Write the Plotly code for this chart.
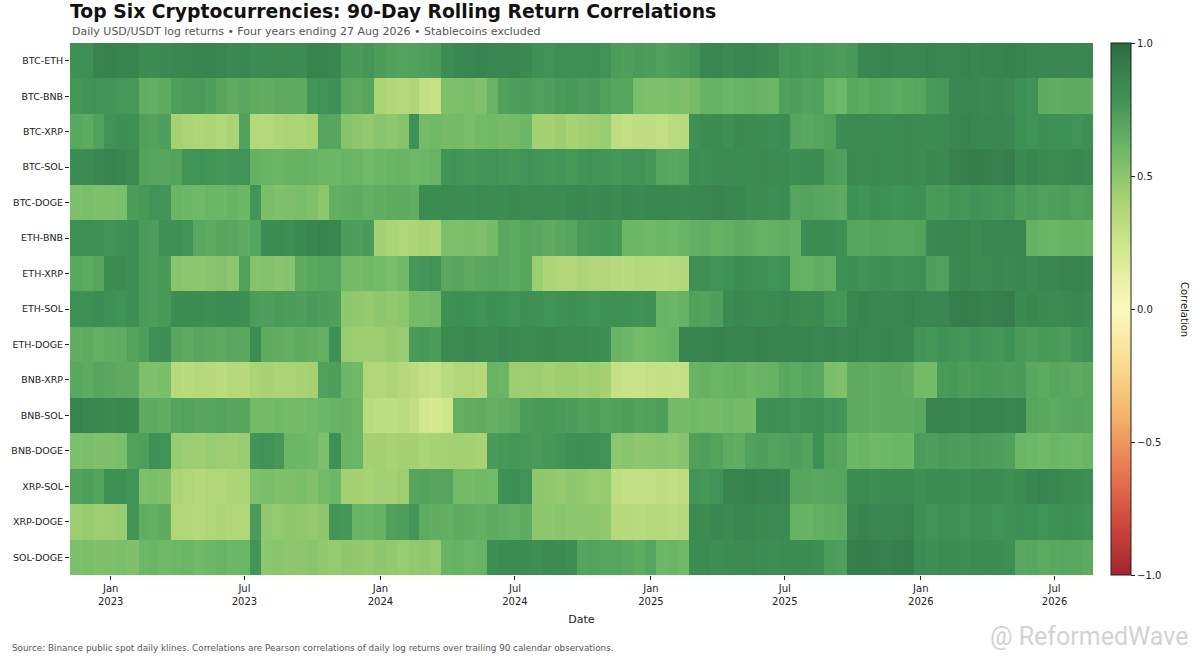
import pandas as pd
import plotly.graph_objects as go

# pair labels, top to bottom
pairs = ['BTC-ETH', 'BTC-BNB', 'BTC-XRP', 'BTC-SOL', 'BTC-DOGE',
         'ETH-BNB', 'ETH-XRP', 'ETH-SOL', 'ETH-DOGE', 'BNB-XRP',
         'BNB-SOL', 'BNB-DOGE', 'XRP-SOL', 'XRP-DOGE', 'SOL-DOGE']

# semi-monthly sample dates (1st / 15th), mid Nov 2022 -> mid Aug 2026
dates = pd.date_range('2022-11-15', '2026-08-15', freq='SMS')

# 90-day rolling correlations, one list per pair
btc_eth = [0.80, 0.81, 0.88, 0.89, 0.88, 0.87, 0.83, 0.82, 0.84, 0.85,
           0.86, 0.87, 0.87, 0.86, 0.84, 0.85, 0.82, 0.83, 0.84, 0.83,
           0.82, 0.87, 0.88, 0.86, 0.76, 0.75, 0.77, 0.74, 0.72, 0.71,
           0.72, 0.73, 0.74, 0.82, 0.85, 0.86, 0.87, 0.86, 0.85, 0.86,
           0.84, 0.80, 0.79, 0.81, 0.80, 0.80, 0.81, 0.79, 0.74, 0.73,
           0.75, 0.74, 0.72, 0.74, 0.75, 0.78, 0.85, 0.86, 0.84, 0.85,
           0.86, 0.84, 0.83, 0.77, 0.78, 0.76, 0.77, 0.75, 0.74, 0.76,
           0.85, 0.86, 0.87, 0.86, 0.85, 0.86, 0.87, 0.86, 0.86, 0.87,
           0.86, 0.87, 0.88, 0.89, 0.88, 0.86, 0.85, 0.86, 0.86, 0.85, 0.86]
btc_bnb = [0.77, 0.78, 0.79, 0.78, 0.77, 0.76, 0.65, 0.64, 0.66, 0.73,
           0.74, 0.75, 0.73, 0.69, 0.67, 0.68, 0.66, 0.65, 0.67, 0.66,
           0.67, 0.78, 0.79, 0.80, 0.68, 0.67, 0.69, 0.40, 0.37, 0.36,
           0.38, 0.30, 0.28, 0.54, 0.55, 0.56, 0.54, 0.62, 0.72, 0.73,
           0.74, 0.72, 0.73, 0.75, 0.76, 0.74, 0.75, 0.72, 0.70, 0.69,
           0.56, 0.55, 0.54, 0.56, 0.55, 0.57, 0.62, 0.63, 0.61, 0.62,
           0.63, 0.62, 0.61, 0.72, 0.73, 0.71, 0.72, 0.62, 0.60, 0.68,
           0.67, 0.69, 0.68, 0.67, 0.68, 0.69, 0.75, 0.76, 0.85, 0.86,
           0.85, 0.84, 0.85, 0.84, 0.80, 0.79, 0.66, 0.65, 0.66, 0.67, 0.66]
btc_xrp = [0.68, 0.67, 0.72, 0.79, 0.81, 0.80, 0.72, 0.71, 0.73, 0.42,
           0.40, 0.38, 0.39, 0.37, 0.40, 0.72, 0.36, 0.35, 0.38, 0.40,
           0.39, 0.41, 0.70, 0.69, 0.52, 0.50, 0.48, 0.51, 0.49, 0.52,
           0.80, 0.58, 0.59, 0.57, 0.58, 0.56, 0.58, 0.59, 0.57, 0.58,
           0.60, 0.43, 0.42, 0.44, 0.41, 0.43, 0.44, 0.46, 0.32, 0.30,
           0.31, 0.32, 0.30, 0.33, 0.34, 0.80, 0.82, 0.83, 0.81, 0.84,
           0.83, 0.82, 0.81, 0.82, 0.70, 0.68, 0.70, 0.72, 0.82, 0.83,
           0.84, 0.83, 0.82, 0.83, 0.84, 0.83, 0.82, 0.84, 0.86, 0.87,
           0.86, 0.85, 0.86, 0.85, 0.80, 0.79, 0.81, 0.80, 0.80, 0.79, 0.81]
btc_sol = [0.82, 0.83, 0.86, 0.87, 0.85, 0.83, 0.71, 0.70, 0.69, 0.71,
           0.78, 0.79, 0.78, 0.77, 0.78, 0.79, 0.63, 0.62, 0.61, 0.62,
           0.63, 0.62, 0.61, 0.60, 0.62, 0.61, 0.59, 0.60, 0.61, 0.62,
           0.60, 0.61, 0.62, 0.78, 0.79, 0.77, 0.78, 0.79, 0.78, 0.77,
           0.79, 0.78, 0.77, 0.78, 0.76, 0.78, 0.79, 0.78, 0.77, 0.78,
           0.79, 0.77, 0.69, 0.68, 0.70, 0.82, 0.81, 0.82, 0.83, 0.82,
           0.83, 0.84, 0.83, 0.82, 0.81, 0.82, 0.83, 0.74, 0.73, 0.84,
           0.83, 0.84, 0.82, 0.83, 0.84, 0.83, 0.85, 0.84, 0.89, 0.90,
           0.91, 0.90, 0.89, 0.90, 0.84, 0.85, 0.84, 0.83, 0.84, 0.85, 0.84]
btc_doge = [0.55, 0.56, 0.54, 0.55, 0.56, 0.74, 0.76, 0.79, 0.78, 0.61,
            0.60, 0.59, 0.61, 0.60, 0.62, 0.60, 0.78, 0.56, 0.54, 0.55,
            0.56, 0.54, 0.50, 0.64, 0.65, 0.66, 0.64, 0.65, 0.66, 0.67,
            0.65, 0.83, 0.82, 0.84, 0.83, 0.82, 0.84, 0.83, 0.82, 0.84,
            0.83, 0.84, 0.83, 0.82, 0.84, 0.85, 0.84, 0.85, 0.84, 0.85,
            0.84, 0.85, 0.86, 0.85, 0.84, 0.85, 0.86, 0.87, 0.86, 0.85,
            0.82, 0.83, 0.81, 0.82, 0.70, 0.71, 0.69, 0.68, 0.67, 0.80,
            0.79, 0.81, 0.80, 0.79, 0.80, 0.81, 0.75, 0.76, 0.78, 0.77,
            0.79, 0.78, 0.77, 0.78, 0.73, 0.74, 0.72, 0.73, 0.74, 0.72, 0.73]
eth_bnb = [0.80, 0.81, 0.80, 0.79, 0.80, 0.81, 0.75, 0.74, 0.80, 0.81,
           0.79, 0.68, 0.67, 0.69, 0.68, 0.67, 0.70, 0.82, 0.83, 0.81,
           0.84, 0.86, 0.87, 0.86, 0.74, 0.73, 0.75, 0.42, 0.40, 0.38,
           0.39, 0.41, 0.40, 0.55, 0.54, 0.56, 0.55, 0.57, 0.68, 0.67,
           0.69, 0.68, 0.66, 0.68, 0.69, 0.75, 0.76, 0.77, 0.76, 0.61,
           0.60, 0.59, 0.61, 0.60, 0.62, 0.64, 0.65, 0.63, 0.64, 0.66,
           0.65, 0.63, 0.64, 0.65, 0.64, 0.82, 0.83, 0.82, 0.81, 0.70,
           0.69, 0.71, 0.70, 0.69, 0.70, 0.71, 0.84, 0.85, 0.86, 0.85,
           0.84, 0.86, 0.85, 0.86, 0.85, 0.63, 0.62, 0.61, 0.62, 0.63, 0.62]
eth_xrp = [0.68, 0.67, 0.69, 0.82, 0.83, 0.81, 0.75, 0.74, 0.76, 0.51,
           0.50, 0.49, 0.51, 0.52, 0.50, 0.72, 0.52, 0.53, 0.51, 0.52,
           0.66, 0.68, 0.69, 0.70, 0.58, 0.57, 0.59, 0.58, 0.56, 0.59,
           0.77, 0.78, 0.79, 0.68, 0.69, 0.67, 0.68, 0.69, 0.68, 0.67,
           0.69, 0.45, 0.39, 0.38, 0.37, 0.39, 0.38, 0.37, 0.35, 0.34,
           0.36, 0.35, 0.34, 0.36, 0.37, 0.80, 0.81, 0.79, 0.80, 0.82,
           0.81, 0.80, 0.79, 0.80, 0.64, 0.63, 0.65, 0.64, 0.80, 0.81,
           0.79, 0.80, 0.81, 0.79, 0.80, 0.81, 0.73, 0.72, 0.84, 0.85,
           0.84, 0.83, 0.85, 0.84, 0.85, 0.84, 0.85, 0.86, 0.88, 0.87, 0.86]
eth_sol = [0.80, 0.81, 0.82, 0.80, 0.79, 0.81, 0.75, 0.74, 0.76, 0.82,
           0.83, 0.82, 0.81, 0.83, 0.82, 0.81, 0.74, 0.73, 0.75, 0.74,
           0.73, 0.75, 0.74, 0.73, 0.49, 0.48, 0.47, 0.49, 0.48, 0.50,
           0.58, 0.57, 0.59, 0.80, 0.81, 0.80, 0.79, 0.81, 0.80, 0.79,
           0.81, 0.80, 0.79, 0.80, 0.81, 0.80, 0.79, 0.80, 0.81, 0.80,
           0.79, 0.80, 0.62, 0.61, 0.63, 0.72, 0.71, 0.73, 0.84, 0.85,
           0.84, 0.83, 0.84, 0.85, 0.84, 0.83, 0.84, 0.78, 0.77, 0.86,
           0.87, 0.86, 0.85, 0.86, 0.87, 0.86, 0.85, 0.86, 0.90, 0.91,
           0.90, 0.89, 0.90, 0.91, 0.84, 0.85, 0.84, 0.83, 0.84, 0.85, 0.84]
eth_doge = [0.65, 0.66, 0.64, 0.65, 0.66, 0.71, 0.73, 0.80, 0.81, 0.68,
            0.67, 0.69, 0.68, 0.67, 0.69, 0.68, 0.82, 0.66, 0.65, 0.64,
            0.66, 0.65, 0.64, 0.80, 0.46, 0.45, 0.44, 0.45, 0.47, 0.46,
            0.75, 0.76, 0.74, 0.84, 0.83, 0.85, 0.84, 0.83, 0.85, 0.84,
            0.83, 0.84, 0.85, 0.84, 0.83, 0.84, 0.82, 0.81, 0.62, 0.60,
            0.58, 0.59, 0.61, 0.63, 0.88, 0.87, 0.88, 0.89, 0.88, 0.87,
            0.88, 0.89, 0.88, 0.87, 0.88, 0.87, 0.86, 0.87, 0.86, 0.87,
            0.85, 0.86, 0.87, 0.86, 0.85, 0.78, 0.77, 0.79, 0.78, 0.77,
            0.79, 0.78, 0.77, 0.79, 0.75, 0.74, 0.76, 0.75, 0.74, 0.78, 0.80]
bnb_xrp = [0.68, 0.67, 0.69, 0.68, 0.67, 0.66, 0.55, 0.54, 0.56, 0.35,
           0.34, 0.36, 0.35, 0.33, 0.36, 0.35, 0.40, 0.41, 0.39, 0.40,
           0.41, 0.42, 0.72, 0.73, 0.60, 0.59, 0.38, 0.37, 0.39, 0.36,
           0.33, 0.30, 0.28, 0.34, 0.37, 0.38, 0.36, 0.62, 0.61, 0.45,
           0.44, 0.45, 0.43, 0.44, 0.45, 0.43, 0.44, 0.42, 0.28, 0.27,
           0.26, 0.28, 0.29, 0.28, 0.30, 0.62, 0.63, 0.61, 0.62, 0.63,
           0.61, 0.62, 0.63, 0.68, 0.67, 0.69, 0.68, 0.56, 0.54, 0.66,
           0.67, 0.65, 0.66, 0.67, 0.65, 0.58, 0.57, 0.75, 0.76, 0.74,
           0.75, 0.76, 0.75, 0.74, 0.75, 0.68, 0.67, 0.69, 0.68, 0.67, 0.68]
bnb_sol = [0.87, 0.86, 0.85, 0.84, 0.85, 0.84, 0.66, 0.67, 0.65, 0.70,
           0.71, 0.69, 0.70, 0.71, 0.69, 0.70, 0.58, 0.57, 0.59, 0.58,
           0.57, 0.59, 0.60, 0.62, 0.63, 0.61, 0.33, 0.32, 0.31, 0.33,
           0.30, 0.22, 0.21, 0.24, 0.64, 0.65, 0.66, 0.64, 0.65, 0.67,
           0.74, 0.75, 0.76, 0.75, 0.74, 0.72, 0.73, 0.71, 0.72, 0.73,
           0.71, 0.72, 0.73, 0.58, 0.57, 0.59, 0.58, 0.57, 0.59, 0.58,
           0.57, 0.80, 0.81, 0.80, 0.79, 0.80, 0.81, 0.79, 0.78, 0.66,
           0.67, 0.65, 0.66, 0.67, 0.66, 0.68, 0.87, 0.88, 0.87, 0.86,
           0.87, 0.88, 0.87, 0.86, 0.87, 0.69, 0.68, 0.67, 0.68, 0.69, 0.68]
bnb_doge = [0.55, 0.56, 0.54, 0.55, 0.56, 0.72, 0.73, 0.80, 0.79, 0.46,
            0.45, 0.44, 0.46, 0.45, 0.44, 0.46, 0.78, 0.79, 0.77, 0.61,
            0.60, 0.59, 0.55, 0.80, 0.62, 0.61, 0.42, 0.43, 0.41, 0.42,
            0.43, 0.40, 0.41, 0.42, 0.43, 0.42, 0.41, 0.75, 0.76, 0.77,
            0.76, 0.75, 0.77, 0.78, 0.80, 0.81, 0.80, 0.79, 0.50, 0.51,
            0.49, 0.50, 0.51, 0.50, 0.52, 0.72, 0.73, 0.71, 0.66, 0.65,
            0.72, 0.73, 0.71, 0.72, 0.73, 0.71, 0.80, 0.71, 0.70, 0.60,
            0.61, 0.59, 0.60, 0.61, 0.60, 0.74, 0.73, 0.75, 0.74, 0.73,
            0.75, 0.74, 0.73, 0.72, 0.61, 0.60, 0.59, 0.61, 0.60, 0.59, 0.61]
xrp_sol = [0.72, 0.73, 0.71, 0.80, 0.81, 0.79, 0.55, 0.56, 0.54, 0.39,
           0.38, 0.36, 0.38, 0.37, 0.39, 0.40, 0.55, 0.56, 0.54, 0.55,
           0.56, 0.54, 0.58, 0.60, 0.43, 0.42, 0.41, 0.43, 0.42, 0.44,
           0.70, 0.71, 0.69, 0.70, 0.58, 0.57, 0.59, 0.58, 0.80, 0.81,
           0.79, 0.49, 0.48, 0.47, 0.49, 0.48, 0.46, 0.47, 0.31, 0.30,
           0.29, 0.30, 0.31, 0.30, 0.32, 0.78, 0.77, 0.79, 0.87, 0.88,
           0.89, 0.88, 0.87, 0.86, 0.70, 0.69, 0.68, 0.69, 0.70, 0.82,
           0.83, 0.81, 0.82, 0.83, 0.82, 0.81, 0.82, 0.83, 0.82, 0.81,
           0.82, 0.83, 0.82, 0.81, 0.83, 0.86, 0.87, 0.86, 0.84, 0.82, 0.81]
xrp_doge = [0.45, 0.46, 0.44, 0.45, 0.46, 0.78, 0.65, 0.64, 0.66, 0.38,
            0.37, 0.36, 0.38, 0.39, 0.37, 0.38, 0.75, 0.48, 0.47, 0.49,
            0.48, 0.47, 0.49, 0.78, 0.77, 0.62, 0.61, 0.63, 0.72, 0.73,
            0.78, 0.66, 0.65, 0.64, 0.66, 0.65, 0.64, 0.66, 0.65, 0.64,
            0.66, 0.50, 0.49, 0.51, 0.50, 0.49, 0.50, 0.48, 0.36, 0.35,
            0.34, 0.36, 0.35, 0.34, 0.36, 0.84, 0.83, 0.85, 0.84, 0.86,
            0.85, 0.84, 0.83, 0.84, 0.63, 0.62, 0.64, 0.65, 0.66, 0.86,
            0.87, 0.86, 0.85, 0.86, 0.87, 0.80, 0.79, 0.81, 0.80, 0.79,
            0.81, 0.80, 0.79, 0.80, 0.81, 0.80, 0.79, 0.80, 0.81, 0.80, 0.79]
sol_doge = [0.55, 0.56, 0.54, 0.55, 0.56, 0.54, 0.60, 0.61, 0.59, 0.60,
            0.61, 0.59, 0.60, 0.62, 0.60, 0.61, 0.78, 0.50, 0.51, 0.49,
            0.50, 0.51, 0.48, 0.47, 0.49, 0.48, 0.47, 0.49, 0.48, 0.46,
            0.48, 0.49, 0.47, 0.62, 0.63, 0.61, 0.62, 0.81, 0.82, 0.83,
            0.82, 0.81, 0.83, 0.82, 0.81, 0.70, 0.71, 0.69, 0.70, 0.68,
            0.66, 0.70, 0.60, 0.61, 0.59, 0.82, 0.83, 0.81, 0.82, 0.83,
            0.84, 0.82, 0.81, 0.82, 0.83, 0.82, 0.81, 0.74, 0.73, 0.90,
            0.91, 0.90, 0.89, 0.90, 0.91, 0.82, 0.81, 0.83, 0.82, 0.81,
            0.82, 0.83, 0.82, 0.81, 0.68, 0.69, 0.67, 0.68, 0.69, 0.68, 0.67]

z = [btc_eth, btc_bnb, btc_xrp, btc_sol, btc_doge,
     eth_bnb, eth_xrp, eth_sol, eth_doge, bnb_xrp,
     bnb_sol, bnb_doge, xrp_sol, xrp_doge, sol_doge]

# RdYlGn, toned down a bit like the original render
rdylgn = [[0.00, '#a2232f'], [0.10, '#cf4a3a'], [0.20, '#e97b52'],
          [0.30, '#f3b36c'], [0.40, '#fadd91'], [0.50, '#fcf9bd'],
          [0.60, '#d8ea91'], [0.70, '#abd474'], [0.80, '#6db866'],
          [0.90, '#3e9155'], [0.95, '#367f4c'], [1.00, '#2b6a42']]

font = 'DejaVu Sans'

fig = go.Figure(go.Heatmap(
    x=dates,
    y=pairs,
    z=z,
    zmin=-1,
    zmax=1,
    colorscale=rdylgn,
    colorbar=dict(
        x=1.0176, xanchor='left', y=0.5, yanchor='middle',
        len=1, lenmode='fraction', thickness=20, ypad=0, xpad=0,
        outlinewidth=1, outlinecolor='#222',
        tickvals=[-1, -0.5, 0, 0.5, 1], tickformat='.1f',
        ticks='outside', ticklen=4, tickcolor='#222',
        tickfont=dict(family=font, size=10, color='#222'),
    ),
    hovertemplate='%{y}<br>%{x|%d %b %Y}<br>r = %{z:.2f}<extra></extra>',
))

fig.update_layout(
    width=1200,
    height=661,
    margin=dict(l=70, r=107, t=43, b=86),
    paper_bgcolor='white',
    plot_bgcolor='white',
    font=dict(family=font, size=10, color='#222'),
    title=dict(
        text='<b>Top Six Cryptocurrencies: 90-Day Rolling Return Correlations</b>',
        xref='container', x=70 / 1200, xanchor='left',
        yref='container', y=1 - 5 / 661, yanchor='top',
        font=dict(family=font, size=18.8, color='#111'),
    ),
)

fig.update_xaxes(
    tickformat='%b<br>%Y', dtick='M6', tick0='2023-01-01',
    ticks='outside', ticklen=4, tickcolor='#222',
    tickfont=dict(family=font, size=10, color='#222'),
    showgrid=False, zeroline=False, showline=False,
    title=dict(text='Date', font=dict(family=font, size=11, color='#222'), standoff=9),
)
fig.update_yaxes(
    autorange='reversed',
    ticks='outside', ticklen=4, tickcolor='#222',
    tickfont=dict(family=font, size=9.5, color='#222'),
    showgrid=False, zeroline=False, showline=False,
)

# colorbar label, rotated, a little further out than plotly puts it
fig.add_annotation(
    text='Correlation', textangle=90,
    xref='paper', yref='paper', x=(1185 - 70) / 1023, y=0.5,
    xanchor='center', yanchor='middle', showarrow=False,
    font=dict(family=font, size=10, color='#222'),
)
fig.add_annotation(
    text='Daily USD/USDT log returns \u2022 Four years ending 27 Aug 2026 \u2022 Stablecoins excluded',
    xref='paper', yref='paper', x=0, y=(575 - 31.5) / 532,
    xanchor='left', yanchor='middle', showarrow=False,
    font=dict(family=font, size=11, color='#555'),
)
fig.add_annotation(
    text='Source: Binance public spot daily klines. Correlations are Pearson correlations of daily log returns over trailing 90 calendar observations.',
    xref='paper', yref='paper', x=(10 - 70) / 1023, y=(575 - 648) / 532,
    xanchor='left', yanchor='middle', showarrow=False,
    font=dict(family=font, size=8.8, color='#555'),
)
fig.add_annotation(
    text='@ ReformedWave',
    xref='paper', yref='paper', x=(1190 - 70) / 1023, y=(575 - 636) / 532,
    xanchor='right', yanchor='middle', showarrow=False,
    font=dict(family='Roboto', size=25, color='#d3d3d3'),
)

# page body has a default margin; drop it so the figure sits at 0,0
fig.write_html('out.html', config={'displayModeBar': False},
               post_script="document.body.style.margin='0';")
